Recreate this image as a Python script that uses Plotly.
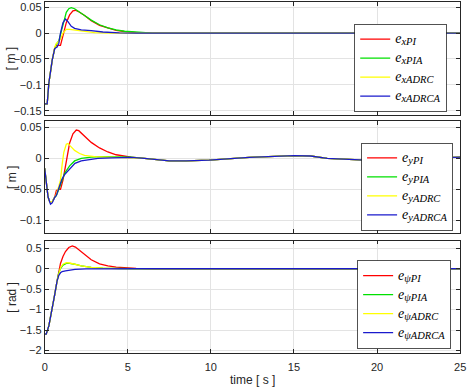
import plotly.graph_objects as go

# ---------------- data ----------------
# Panel 1: e_x [m]
t1_red = [0, 0.15, 0.25, 0.35, 0.45, 0.6, 0.7, 0.8, 0.95, 1.1, 1.3, 1.5, 1.7, 1.85, 2.0, 2.4, 2.8, 3.3, 3.8, 4.3, 4.8, 5.5, 6.5, 10, 15, 20, 25]
ex_pi = [-0.137, -0.137, -0.097, -0.07, -0.053, -0.03, -0.024, -0.024, -0.024, -0.005, 0.02, 0.035, 0.043, 0.044, 0.042, 0.034, 0.024, 0.015, 0.0095, 0.005, 0.003, 0.001, 0.0, 0.0, 0.0, 0.0, 0.0]
t1_green = [0, 0.15, 0.25, 0.35, 0.45, 0.6, 0.7, 0.85, 1.0, 1.15, 1.3, 1.45, 1.6, 1.8, 2.0, 2.4, 2.8, 3.3, 3.8, 4.3, 4.8, 5.5, 6.5, 10, 15, 20, 25]
ex_pia = [-0.137, -0.137, -0.097, -0.07, -0.053, -0.03, -0.022, -0.015, 0.005, 0.025, 0.04, 0.047, 0.049, 0.047, 0.043, 0.034, 0.025, 0.016, 0.010, 0.006, 0.0035, 0.0015, 0.0, 0.0, 0.0, 0.0, 0.0]
t1_yellow = [0, 0.15, 0.25, 0.35, 0.45, 0.6, 0.7, 0.8, 0.95, 1.1, 1.3, 1.5, 2.0, 2.5, 3.0, 4.0, 10, 15, 20, 25]
ex_adrc = [-0.137, -0.137, -0.097, -0.07, -0.053, -0.028, -0.02, -0.018, -0.012, 0.0, 0.007, 0.007, 0.005, 0.003, 0.001, 0.0, 0.0, 0.0, 0.0, 0.0]
t1_blue = [0, 0.15, 0.25, 0.35, 0.45, 0.6, 0.75, 0.85, 0.95, 1.1, 1.25, 1.4, 1.6, 1.8, 2.2, 2.8, 3.5, 4.5, 5.5, 10, 15, 20, 25]
ex_adrca = [-0.137, -0.137, -0.097, -0.07, -0.053, -0.03, -0.027, -0.02, 0.0, 0.02, 0.027, 0.022, 0.013, 0.009, 0.006, 0.0045, 0.002, 0.0005, 0.0, 0.0, 0.0, 0.0, 0.0]

# Panel 2: e_y [m]
t2_tail = [6, 7.5, 8.5, 9.9, 12.3, 15, 16, 17, 19.3, 21, 23, 25]
ey_tail = [0.0, -0.0038, -0.004, -0.0027, 0.0016, 0.0047, 0.004, 0.0, -0.0027, -0.003, 0.0, 0.002]
t2_red = [0, 0.1, 0.2, 0.3, 0.45, 0.6, 0.7, 0.8, 0.95, 1.1, 1.3, 1.5, 1.7, 1.9, 2.05, 2.4, 2.8, 3.3, 3.8, 4.3, 4.8, 5.2]
ey_pi = [-0.016, -0.04, -0.062, -0.07, -0.07, -0.063, -0.052, -0.05, -0.05, -0.035, -0.005, 0.025, 0.04, 0.046, 0.045, 0.036, 0.026, 0.017, 0.0105, 0.006, 0.0037, 0.002]
t2_green = [0, 0.1, 0.2, 0.3, 0.45, 0.6, 0.7, 0.85, 1.0, 1.2, 1.5, 1.8, 2.2, 2.8, 3.5, 4.2, 5.2]
ey_pia = [-0.016, -0.04, -0.062, -0.07, -0.07, -0.063, -0.06, -0.05, -0.038, -0.024, -0.012, -0.004, 0.0, 0.002, 0.003, 0.003, 0.002]
t2_yellow = [0, 0.1, 0.2, 0.3, 0.45, 0.6, 0.7, 0.85, 0.95, 1.05, 1.15, 1.3, 1.4, 1.55, 1.8, 2.1, 2.4, 3.0, 4.0, 5.2]
ey_adrc = [-0.016, -0.04, -0.062, -0.07, -0.07, -0.063, -0.058, -0.045, -0.035, -0.01, 0.01, 0.023, 0.024, 0.02, 0.013, 0.008, 0.005, 0.003, 0.002, 0.002]
t2_blue = [0, 0.1, 0.2, 0.35, 0.45, 0.6, 0.7, 0.85, 1.03, 1.2, 1.43, 1.82, 2.2, 2.6, 3.2, 4.0, 5.2]
ey_adrca = [-0.016, -0.04, -0.062, -0.074, -0.072, -0.063, -0.06, -0.048, -0.034, -0.026, -0.019, -0.008, -0.004, -0.002, 0.0, 0.001, 0.0016]

# Panel 3: e_psi [rad]
t3_red = [0, 0.09, 0.25, 0.35, 0.44, 0.6, 0.74, 0.85, 0.95, 1.1, 1.25, 1.45, 1.66, 1.85, 2.2, 2.8, 3.3, 3.8, 4.3, 4.8, 5.5, 6.5, 10, 15, 20, 25]
epsi_pi = [-1.6, -1.6, -1.4, -1.2, -1.0, -0.64, -0.31, -0.05, 0.13, 0.3, 0.42, 0.52, 0.56, 0.53, 0.42, 0.22, 0.12, 0.07, 0.04, 0.02, 0.008, 0.0, 0.0, 0.0, 0.0, 0.0]
t3_green = [0, 0.09, 0.25, 0.35, 0.44, 0.6, 0.74, 0.85, 0.95, 1.1, 1.3, 1.5, 1.8, 2.2, 2.8, 3.5, 4.5, 5.5, 10, 15, 20, 25]
epsi_pia = [-1.6, -1.6, -1.4, -1.2, -1.0, -0.64, -0.31, -0.1, 0.0, 0.09, 0.13, 0.13, 0.11, 0.07, 0.035, 0.015, 0.005, 0.0, 0.0, 0.0, 0.0, 0.0]
t3_yellow = [0, 0.09, 0.25, 0.35, 0.44, 0.6, 0.74, 0.85, 0.95, 1.1, 1.3, 1.5, 1.8, 2.2, 2.8, 3.5, 4.5, 5.5, 10, 15, 20, 25]
epsi_adrc = [-1.6, -1.6, -1.4, -1.2, -1.0, -0.64, -0.31, -0.1, 0.02, 0.11, 0.15, 0.14, 0.11, 0.07, 0.035, 0.012, 0.004, 0.0, 0.0, 0.0, 0.0, 0.0]
t3_blue = [0, 0.09, 0.25, 0.35, 0.44, 0.6, 0.74, 0.85, 0.95, 1.05, 1.25, 1.5, 1.82, 2.5, 3.5, 5.5, 10, 15, 20, 25]
epsi_adrca = [-1.6, -1.6, -1.4, -1.2, -1.0, -0.64, -0.31, -0.16, -0.1, -0.07, -0.05, -0.035, -0.015, -0.005, 0.0, 0.0, 0.0, 0.0, 0.0, 0.0]

x_ticks = [0, 5, 10, 15, 20, 25]
y1_ticks = [-0.15, -0.1, -0.05, 0, 0.05]
y2_ticks = [-0.1, -0.05, 0, 0.05]
y3_ticks = [-2, -1.5, -1, -0.5, 0, 0.5]

subscripts_x = ["xPI", "xPIA", "xADRC", "xADRCA"]
subscripts_y = ["yPI", "yPIA", "yADRC", "yADRCA"]
subscripts_p = ["ψPI", "ψPIA", "ψADRC", "ψADRCA"]


def leg_name(sub):
    return ('<span style="font-size:14px"><i>e</i></span>'
            '<sub><span style="font-size:10.5px"><i>' + sub + '</i></span></sub>')


colors = ["#ff0000", "#00e000", "#ffff00", "#1a1acc"]

# ---------------- figure ----------------
fig = go.Figure()


def add_panel(series, subs, xa, ya, leg):
    for (t, v), s, c in zip(series, subs, colors):
        fig.add_trace(go.Scatter(x=t, y=v, mode="lines", name=leg_name(s),
                                 line=dict(color=c, width=1.3),
                                 xaxis=xa, yaxis=ya, legend=leg))


add_panel([(t1_red, ex_pi), (t1_green, ex_pia), (t1_yellow, ex_adrc), (t1_blue, ex_adrca)],
          subscripts_x, "x", "y", "legend")
add_panel([(t2_red + t2_tail, ey_pi + ey_tail), (t2_green + t2_tail, ey_pia + ey_tail),
           (t2_yellow + t2_tail, ey_adrc + ey_tail), (t2_blue + t2_tail, ey_adrca + ey_tail)],
          subscripts_y, "x2", "y2", "legend2")
add_panel([(t3_red, epsi_pi), (t3_green, epsi_pia), (t3_yellow, epsi_adrc), (t3_blue, epsi_adrca)],
          subscripts_p, "x3", "y3", "legend3")

W, H = 474, 391
xl, xr = 42.5 / W, 466 / W
axcol = "#262626"
tickfont = dict(family="Liberation Sans, Arial", size=11, color=axcol)


def xax(anchor, show_labels):
    return dict(domain=[xl, xr], range=[0, 25], tickvals=x_ticks, anchor=anchor,
                showticklabels=show_labels, ticks="inside", ticklen=4, tickcolor=axcol,
                showline=True, linecolor=axcol, linewidth=0.8, mirror="ticks",
                showgrid=True, gridcolor="#e3e3e3", gridwidth=1, zeroline=False,
                tickfont=tickfont, ticklabelstandoff=4)


def yax(anchor, dom, rng, tv):
    return dict(domain=dom, range=rng, tickvals=tv, anchor=anchor,
                ticks="inside", ticklen=4, tickcolor=axcol,
                showline=True, linecolor=axcol, linewidth=0.8, mirror="ticks",
                showgrid=True, gridcolor="#e3e3e3", gridwidth=1, zeroline=False,
                tickfont=tickfont)


legfont = dict(family="Liberation Serif, DejaVu Serif, serif", size=10, color="#000000")


def leg(xr_px, yb_px):
    return dict(x=xr_px / W, y=1 - yb_px / H, xanchor="right", yanchor="bottom",
                bgcolor="white", bordercolor=axcol, borderwidth=0.8, font=legfont,
                tracegroupgap=0, itemwidth=30)


fig.update_layout(
    width=W, height=H,
    margin=dict(l=0, r=0, t=0, b=0),
    paper_bgcolor="white", plot_bgcolor="white",
    showlegend=True,
    xaxis=xax("y", False),
    xaxis2=xax("y2", False),
    xaxis3=xax("y3", True),
    yaxis=yax("x", [1 - 115 / H, 1 - 1 / H], [-0.158, 0.06], y1_ticks),
    yaxis2=yax("x2", [1 - 234 / H, 1 - 121 / H], [-0.12, 0.061], y2_ticks),
    yaxis3=yax("x3", [1 - 356 / H, 1 - 242 / H], [-2.07, 0.69], y3_ticks),
    legend=leg(452, 112),
    legend2=leg(459, 232),
    legend3=leg(457, 351),
)

lblfont = dict(family="Liberation Sans, Arial", size=12, color=axcol)
for txt, ypx in [("[ m ]", 58), ("[ m ]", 178), ("[ rad ]", 299)]:
    fig.add_annotation(text=txt, x=9 / W, y=1 - ypx / H, xref="paper", yref="paper",
                       showarrow=False, textangle=-90, font=lblfont,
                       xanchor="center", yanchor="middle")
fig.add_annotation(text="time [ s ]", x=254 / W, y=1 - 383 / H, xref="paper", yref="paper",
                   showarrow=False, font=lblfont, xanchor="center", yanchor="middle")

fig.write_html("out.html", config={"displayModeBar": False},
               post_script="document.body.style.margin='0';document.body.style.overflow='hidden';")
